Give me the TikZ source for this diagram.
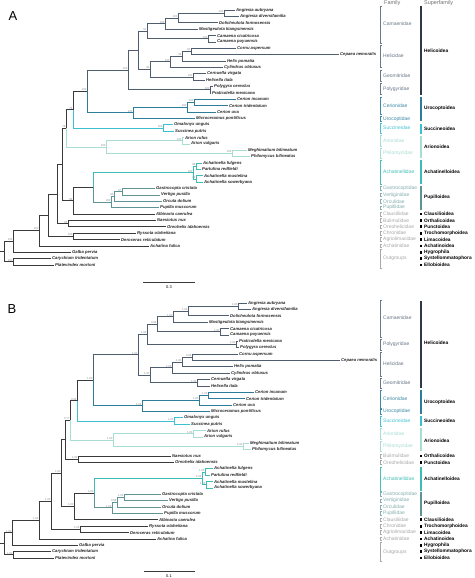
\documentclass[tikz,border=0pt]{standalone}
\usepackage{fontspec}
\setmainfont{Liberation Sans}
\usepackage{tikz}
\tikzset{
  baseline = (current bounding box.center),
}
\usetikzlibrary{calc}
\definecolor{bbcol}{HTML}{3A3A3A}
\definecolor{helic}{HTML}{4F5D6E}
\definecolor{helbar}{HTML}{2E3948}
\definecolor{urocol}{HTML}{2D7C99}
\definecolor{succol}{HTML}{3DBFD2}
\definecolor{aricol}{HTML}{A6DED3}
\definecolor{achcol}{HTML}{3EBDB4}
\definecolor{pupcol}{HTML}{5E9494}
\definecolor{suppcol}{HTML}{8C8C8C}
\definecolor{helfam}{HTML}{6A7888}
\definecolor{urofam}{HTML}{3E8AA6}
\definecolor{sucfam}{HTML}{45C3D3}
\definecolor{arifam}{HTML}{A9DDD3}
\definecolor{achfam}{HTML}{45BFB7}
\definecolor{pupfam}{HTML}{86AFAF}
\definecolor{othfam}{HTML}{A8A8A8}
% clade: name, x, child 1, style 1, child 2, style 2, support
\newcommand\clade[7]{%
  \path let \p1=($(#3)!.5!(#5)$) in (#2pt,\y1) coordinate (#1);
  \draw[#4] (#1) |- (#3);
  \draw[#6] (#1) |- (#5);
  \node[boot] (#1b) at (#1) {#7};}
% family bracket: name, colour, y1, y2, ytext, text
\newcommand\famgrp[6]{%
  \draw[#2, line width=0.45pt] (382,#3) -- (380.5,#3) -- (380.5,#4) -- (382,#4);
  \node[famtext, text=#2] (#1) at (383,#5) {#6};}
\newcommand\famone[4]{\famgrp{#1}{#2}{#3-1.8}{#3+1.8}{#3}{#4}}
% superfamily bar: name, colour, y1, y2, ytext, text
\newcommand\supgrp[6]{%
  \draw[#2, line width=2pt] (421,#3) -- (421,#4);
  \node[suptext] (#1) at (424,#5) {#6};}
\newcommand\supone[3]{%
  \fill[black] (420,#2-1.4) rectangle (422,#2+1.4);
  \node[suptext] (#1) at (424,#2) {#3};}

\begin{document}
\begin{tikzpicture}[
      x=1pt, y=-1pt,
      branch/.style={line width=0.65pt},
      bb/.style={branch,draw=bbcol},
      hel/.style={branch,draw=helic},
      uro/.style={branch,draw=urocol},
      suc/.style={branch,draw=succol},
      ari/.style={branch,draw=aricol},
      acl/.style={branch,draw=achcol},
      pup/.style={branch,draw=pupcol},
      taxon/.style={anchor=west,inner sep=1pt,text=black!85,font=\fontsize{4.2}{5}\selectfont\bfseries\itshape},
      boot/.style={anchor=south east,inner sep=0.3pt,text=suppcol,font=\fontsize{2.8}{3}\selectfont},
      famtext/.style={anchor=west,inner sep=0pt,font=\fontsize{5}{6}\selectfont},
      suptext/.style={anchor=west,inner sep=0pt,font=\fontsize{4.8}{6}\selectfont\bfseries},
      letter/.style={inner sep=0pt,font=\fontsize{13}{13}\selectfont},
      scalet/.style={inner sep=0pt,font=\fontsize{4}{5}\selectfont},
      head/.style={anchor=west,inner sep=0pt,text=black!55,font=\fontsize{5.5}{6}\selectfont},
      ]
      \useasboundingbox[fill=white] (0,0) rectangle (474,578);

      % panel A
      \node[letter] (labA) at (13,16.5) {A};
      \node[head] (headF) at (384,3.2) {Family};
      \node[head] (headS) at (424,3.2) {Superfamily};
      \foreach \x/\sp [count=\i from 0] in {
        235/Angiesia aubryana, 239/Angiesia diversifamilia, 218/Dolicheulota formosensis,
        198/Mastigeulota kiangsinensis, 216/Camaena cicatricosa, 216/Camaena poyuensis,
        236/Cornu aspersum, 339/Cepaea nemoralis, 226/Helix pomatia, 223/Cylindrus obtusus,
        206/Cernuella virgata, 205/Helicella itala, 213/Polygyra cereolus,
        211/Praticolella mexicana, 236/Cerion incanum, 228/Cerion tridentatum, 216/Cerion uva,
        195/Microceramus pontificus, 173/Omalonyx unguis, 174/Succinea putris,
        184/Arion rufus, 190/Arion vulgaris, 247/Meghimatium bilineatum,
        250/Philomycus bilineatus, 202/Achatinella fulgens, 201/Partulina redfieldi,
        203/Achatinella mustelina, 203/Achatinella sowerbyana, 155/Gastrocopta cristata,
        160/Vertigo pusilla, 162/Orcula dolium, 159/Pupilla muscorum, 155/Albinaria caerulea,
        156/Naesiotus nux, 166/Oreohelix idahoensis, 136/Ryssota otaheitana,
        120/Deroceras reticulatum, 149/Achatina fulica, 71/Galba pervia,
        51/Carychium tridentatum, 54/Platevindex mortoni}
        \node[taxon] (a\i) at (\x,{10+\i*6.375}) {\sp};
      \clade{aAA}{224}{a0}{hel}{a1}{hel}{100}
      \clade{aAD}{178}{aAA}{hel}{a2}{hel}{100}
      \clade{aADM}{165}{aAD}{hel}{a3}{hel}{100}
      \clade{aCam}{208}{a4}{hel}{a5}{hel}{100}
      \clade{aC}{147}{aADM}{hel}{aCam}{hel}{91}
      \clade{aCC}{191}{a6}{hel}{a7}{hel}{61}
      \clade{aCCH}{182}{aCC}{hel}{a8}{hel}{99}
      \clade{aHel}{170}{aCCH}{hel}{a9}{hel}{100}
      \clade{aGeo}{193}{a10}{hel}{a11}{hel}{100}
      \clade{aHG}{150}{aHel}{hel}{aGeo}{hel}{90}
      \clade{aH1}{138}{aC}{hel}{aHG}{hel}{}
      \clade{aPol}{210}{a12}{hel}{a13}{hel}{100}
      \clade{aH}{128}{aH1}{hel}{aPol}{hel}{100}
      \clade{aCe2}{194}{a14}{uro}{a15}{uro}{100}
      \clade{aCe}{187}{aCe2}{uro}{a16}{uro}{100}
      \clade{aU}{133}{aCe}{uro}{a17}{uro}{100}
      \clade{aHU}{87}{aH}{hel}{aU}{uro}{100}
      \clade{aSu}{163}{a18}{suc}{a19}{suc}{100}
      \clade{aX}{73}{aHU}{bb}{aSu}{suc}{76}
      \clade{aAr}{182}{a20}{ari}{a21}{ari}{100}
      \clade{aPh}{232}{a22}{ari}{a23}{ari}{100}
      \clade{aAo}{106}{aAr}{ari}{aPh}{ari}{100}
      \clade{aY}{66}{aX}{bb}{aAo}{ari}{78}
      \clade{aA12}{196}{a24}{acl}{a25}{acl}{98}
      \clade{aA34}{196}{a26}{acl}{a27}{acl}{99}
      \clade{aAc}{193}{aA12}{acl}{aA34}{acl}{100}
      \clade{aP1}{122}{a28}{pup}{a29}{pup}{67}
      \clade{aP2}{114}{aP1}{pup}{a30}{pup}{95}
      \clade{aP3}{111}{aP2}{pup}{a31}{pup}{100}
      \clade{aAP}{93}{aAc}{acl}{aP3}{pup}{}
      \clade{aLo}{73}{aAP}{bb}{a32}{bb}{89}
      \clade{aW}{62}{aY}{bb}{aLo}{bb}{}
      \clade{aNO}{68}{a33}{bb}{a34}{bb}{64}
      \clade{aN4}{57}{aW}{bb}{aNO}{bb}{}
      \clade{aRD}{73}{a35}{bb}{a36}{bb}{100}
      \clade{aN3}{48}{aN4}{bb}{aRD}{bb}{}
      \clade{aN2}{39}{aN3}{bb}{a37}{bb}{100}
      \clade{aN1}{13}{aN2}{bb}{a38}{bb}{100}
      \clade{aOG}{13}{a39}{bb}{a40}{bb}{100}
      \clade{aR}{4}{aN1}{bb}{aOG}{bb}{}
      \path (aR) ++(-4,0) coordinate (aR0);
      \draw[bb] (aR0) -- (aR);
      \coordinate (aS1) at (143,282);
      \coordinate (aS2) at (195,282);
      \draw[bb] (aS1) -- (aS2);
      \node[scalet] (aSt) at (169,287) {0.3};
      % families A
      \famgrp{aCamaenidae}{helfam}{6}{43}{24}{Camaenidae}
      \famgrp{aHelicidae}{helfam}{45}{67}{56}{Helicidae}
      \famgrp{aGeomitridae}{helfam}{70}{81}{76}{Geomitridae}
      \famgrp{aPolygyridae}{helfam}{83}{94}{89}{Polygyridae}
      \famgrp{aCerionidae}{urofam}{97}{114}{106}{Cerionidae}
      \famgrp{aUrocoptidae}{urofam}{116}{121}{119}{Urocoptidae}
      \famgrp{aSuccineidae}{sucfam}{123}{133}{128}{Succineidae}
      \famgrp{aArionidae}{arifam}{135}{146}{141}{Arionidae}
      \famgrp{aPhilomycidae}{arifam}{148}{158}{153}{Philomycidae}
      \famgrp{aAchatinellidae}{achfam}{160}{184}{172}{Achatinellidae}
      \famone{aGastrocoptidae}{pupfam}{188.5}{Gastrocoptidae}
      \famone{aVertiginidae}{pupfam}{194.9}{Vertiginidae}
      \famone{aOrculidae}{pupfam}{201.25}{Orculidae}
      \famone{aPupillidae}{pupfam}{207.6}{Pupillidae}
      \famone{aClausiliidae}{othfam}{214}{Clausiliidae}
      \famone{aBulimulidae}{othfam}{220.4}{Bulimulidae}
      \famone{aOreohelicidae}{othfam}{226.75}{Oreohelicidae}
      \famone{aChronidae}{othfam}{233.1}{Chronidae}
      \famone{aAgriolimacidae}{othfam}{239.5}{Agriolimacidae}
      \famone{aAchatinidae}{othfam}{245.9}{Achatinidae}
      \famgrp{aOutgroups}{othfam}{249}{268}{258.5}{Outgroups}
      % superfamilies A
      \supgrp{aHelicoidea}{helbar}{6}{95}{51}{Helicoidea}
      \supgrp{aUrocoptoidea}{urocol}{97}{121}{108}{Urocoptoidea}
      \supgrp{aSuccineoidea}{succol}{124}{134}{128.5}{Succineoidea}
      \supgrp{aArionoidea}{aricol}{136}{158}{147}{Arionoidea}
      \supgrp{aAchatinelloidea}{achcol}{160}{184}{172}{Achatinelloidea}
      \supgrp{aPupilloidea}{pupcol}{186}{210}{197}{Pupilloidea}
      \supone{aClausilioidea}{214}{Clausilioidea}
      \supone{aOrthalicoidea}{220.4}{Orthalicoidea}
      \supone{aPunctoidea}{226.75}{Punctoidea}
      \supone{aTrochomorphoidea}{233.1}{Trochomorphoidea}
      \supone{aLimacoidea}{239.5}{Limacoidea}
      \supone{aAchatinoidea}{245.9}{Achatinoidea}
      \supone{aHygrophila}{252.25}{Hygrophila}
      \supone{aSystellommatophora}{258.6}{Systellommatophora}
      \supone{aEllobioidea}{265}{Ellobioidea}

      % panel B
      \node[letter] (labB) at (12,309.5) {B};
      \foreach \x/\sp [count=\i from 0] in {
        247/Angiesia aubryana, 251/Angiesia diversifamilia, 229/Dolicheulota formosensis,
        208/Mastigeulota kiangsinensis, 229/Camaena cicatricosa, 229/Camaena poyuensis,
        238/Praticolella mexicana, 239/Polygyra cereolus, 238/Cornu aspersum,
        340/Cepaea nemoralis, 233/Helix pomatia, 230/Cylindrus obtusus, 210/Cernuella virgata,
        210/Helicella itala, 254/Cerion incanum, 245/Cerion tridentatum, 232/Cerion uva,
        210/Microceramus pontificus, 183/Omalonyx unguis, 190/Succinea putris,
        206/Arion rufus, 203/Arion vulgaris, 249/Meghimatium bilineatum,
        251/Philomycus bilineatus, 171/Naesiotus nux, 174/Oreohelix idahoensis,
        213/Achatinella fulgens, 210/Partulina redfieldi, 213/Achatinella mustelina,
        213/Achatinella sowerbyana, 161/Gastrocopta cristata, 168/Vertigo pusilla,
        161/Orcula dolium, 163/Pupilla muscorum, 158/Albinaria caerulea,
        148/Ryssota otaheitana, 129/Deroceras reticulatum, 156/Achatina fulica,
        78/Galba pervia, 51/Carychium tridentatum, 54/Platevindex mortoni}
        \node[taxon] (b\i) at (\x,{303+\i*6.375}) {\sp};
      \clade{bAA}{238}{b0}{hel}{b1}{hel}{1.00}
      \clade{bAD}{188}{bAA}{hel}{b2}{hel}{1.00}
      \clade{bADM}{173}{bAD}{hel}{b3}{hel}{1.00}
      \clade{bCam}{220}{b4}{hel}{b5}{hel}{1.00}
      \clade{bC}{157}{bADM}{hel}{bCam}{hel}{0.99}
      \clade{bPol}{236}{b6}{hel}{b7}{hel}{1.00}
      \clade{bCP}{147}{bC}{hel}{bPol}{hel}{1.00}
      \clade{bCC}{192}{b8}{hel}{b9}{hel}{0.98}
      \clade{bCCH}{182}{bCC}{hel}{b10}{hel}{1.00}
      \clade{bHel}{172}{bCCH}{hel}{b11}{hel}{1.00}
      \clade{bGeo}{197}{b12}{hel}{b13}{hel}{1.00}
      \clade{bHG}{150}{bHel}{hel}{bGeo}{hel}{1.00}
      \clade{bH}{138}{bCP}{hel}{bHG}{hel}{1.00}
      \clade{bCe2}{208}{b14}{uro}{b15}{uro}{1.00}
      \clade{bCe}{199}{bCe2}{uro}{b16}{uro}{1.00}
      \clade{bU}{142}{bCe}{uro}{b17}{uro}{1.00}
      \clade{bHU}{93}{bH}{hel}{bU}{uro}{1.00}
      \clade{bSu}{174}{b18}{suc}{b19}{suc}{1.00}
      \clade{bX}{77}{bHU}{bb}{bSu}{suc}{0.99}
      \clade{bAr}{193}{b20}{ari}{b21}{ari}{1.00}
      \clade{bPh}{243}{b22}{ari}{b23}{ari}{1.00}
      \clade{bAo}{113}{bAr}{ari}{bPh}{ari}{1.00}
      \clade{bY}{70}{bX}{bb}{bAo}{ari}{0.77}
      \clade{bNO}{78}{b24}{bb}{b25}{bb}{1.00}
      \clade{bW}{65}{bY}{bb}{bNO}{bb}{}
      \clade{bA12}{205}{b26}{acl}{b27}{acl}{1.00}
      \clade{bA34}{206}{b28}{acl}{b29}{acl}{1.00}
      \clade{bAc}{202}{bA12}{acl}{bA34}{acl}{1.00}
      \clade{bP1}{124}{b30}{pup}{b31}{pup}{1.00}
      \clade{bP2}{117}{bP1}{pup}{b32}{pup}{0.98}
      \clade{bP3}{112}{bP2}{pup}{b33}{pup}{1.00}
      \clade{bAP}{94}{bAc}{acl}{bP3}{pup}{1.00}
      \clade{bLo}{74}{bAP}{bb}{b34}{bb}{1.00}
      \clade{bN4}{61}{bW}{bb}{bLo}{bb}{1.00}
      \clade{bRD}{80}{b35}{bb}{b36}{bb}{1.00}
      \clade{bN3}{51}{bN4}{bb}{bRD}{bb}{1.00}
      \clade{bN2}{39}{bN3}{bb}{b37}{bb}{1.00}
      \clade{bN1}{12}{bN2}{bb}{b38}{bb}{1.00}
      \clade{bOG}{13}{b39}{bb}{b40}{bb}{1.00}
      \clade{bR}{4}{bN1}{bb}{bOG}{bb}{}
      \path (bR) ++(-4,0) coordinate (bR0);
      \draw[bb] (bR0) -- (bR);
      \coordinate (bS1) at (144,571);
      \coordinate (bS2) at (195,571);
      \draw[bb] (bS1) -- (bS2);
      \node[scalet] (bSt) at (169,576) {0.1};
      % families B
      \famgrp{bCamaenidae}{helfam}{300}{337}{318}{Camaenidae}
      \famgrp{bPolygyridae}{helfam}{339}{350}{344.4}{Polygyridae}
      \famgrp{bHelicidae}{helfam}{352}{376}{364}{Helicidae}
      \famgrp{bGeomitridae}{helfam}{378}{388}{383}{Geomitridae}
      \famgrp{bCerionidae}{urofam}{390}{408}{399}{Cerionidae}
      \famgrp{bUrocoptidae}{urofam}{409.5}{414}{411.4}{Urocoptidae}
      \famgrp{bSuccineidae}{sucfam}{416}{426}{421}{Succineidae}
      \famgrp{bArionidae}{arifam}{428}{439}{433.7}{Arionidae}
      \famgrp{bPhilomycidae}{arifam}{441}{451}{446.4}{Philomycidae}
      \famone{bBulimulidae}{othfam}{456}{Bulimulidae}
      \famone{bOreohelicidae}{othfam}{462.4}{Oreohelicidae}
      \famgrp{bAchatinellidae}{achfam}{467}{491}{478.8}{Achatinellidae}
      \famone{bGastrocoptidae}{pupfam}{494.25}{Gastrocoptidae}
      \famone{bVertiginidae}{pupfam}{500.6}{Vertiginidae}
      \famone{bOrculidae}{pupfam}{507}{Orculidae}
      \famone{bPupillidae}{pupfam}{513.4}{Pupillidae}
      \famone{bClausiliidae}{othfam}{519.75}{Clausiliidae}
      \famone{bChronidae}{othfam}{526.1}{Chronidae}
      \famone{bAgriolimacidae}{othfam}{532.5}{Agriolimacidae}
      \famone{bAchatinidae}{othfam}{538.9}{Achatinidae}
      \famgrp{bOutgroups}{othfam}{542}{561}{552}{Outgroups}
      % superfamilies B
      \supgrp{bHelicoidea}{helbar}{301}{388}{343}{Helicoidea}
      \supgrp{bUrocoptoidea}{urocol}{390}{414}{402}{Urocoptoidea}
      \supgrp{bSuccineoidea}{succol}{416}{426}{421}{Succineoidea}
      \supgrp{bArionoidea}{aricol}{428}{451}{441}{Arionoidea}
      \supone{bOrthalicoidea}{456}{Orthalicoidea}
      \supone{bPunctoidea}{462.4}{Punctoidea}
      \supgrp{bAchatinelloidea}{achcol}{467}{491}{478.8}{Achatinelloidea}
      \supgrp{bPupilloidea}{pupcol}{492}{516}{503}{Pupilloidea}
      \supone{bClausilioidea}{519.75}{Clausilioidea}
      \supone{bTrochomorphoidea}{526.1}{Trochomorphoidea}
      \supone{bLimacoidea}{532.5}{Limacoidea}
      \supone{bAchatinoidea}{538.9}{Achatinoidea}
      \supone{bHygrophila}{545.25}{Hygrophila}
      \supone{bSystellommatophora}{551.6}{Systellommatophora}
      \supone{bEllobioidea}{558}{Ellobioidea}
    \end{tikzpicture}
\end{document}
